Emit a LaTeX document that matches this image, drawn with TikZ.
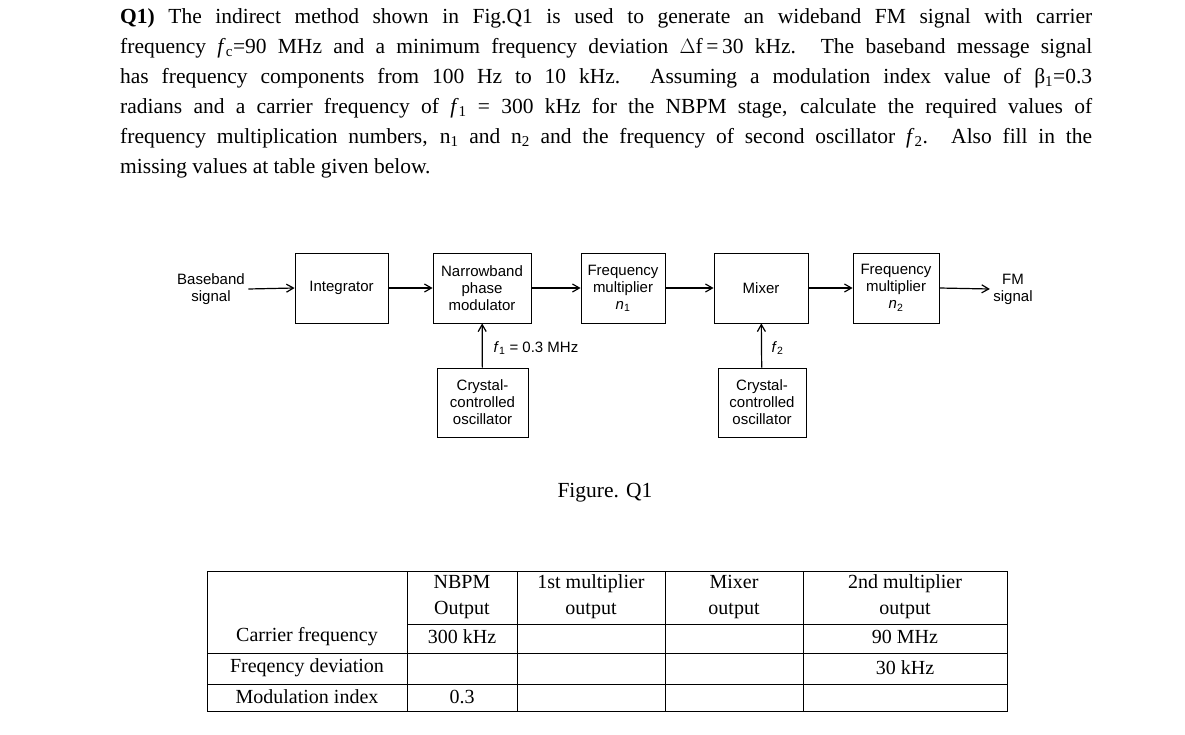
\documentclass[tikz,border=0pt]{standalone}
\usepackage{fontspec}
\setmainfont{Liberation Serif}
\newfontfamily\dsans{Liberation Sans}
\usetikzlibrary{arrows.meta}
\begin{document}
\begin{tikzpicture}[x=1pt,y=-1pt,
 blk/.style={draw,line width=0.8pt,minimum width=#1,minimum height=70,inner sep=1pt,align=center,font=\dsans\fontsize{15}{17}\selectfont},
 lbl/.style={align=center,font=\dsans\fontsize{15}{17}\selectfont},
 ar/.style={-{Straight Barb[length=7pt,width=8pt]},line width=1.2pt},
 para/.style={anchor=west,inner sep=0,font=\fontsize{21.5}{24}\selectfont},
 tb/.style={font=\fontsize{20}{26}\selectfont,align=center,inner sep=0}]
\useasboundingbox (0,0) rectangle (1185,735);
% paragraph
\node[para] (l1) at (120,18) {\hbox to 972pt{\textbf{Q1)} The indirect method shown in Fig.Q1 is used to generate an wideband FM signal with carrier}};
\node[para] (l2) at (120,48) {\hbox to 972pt{frequency \textit{f}\textsubscript{c}=90 MHz and a minimum frequency deviation $\Delta$f\,=\,30 kHz. The baseband message signal}};
\node[para] (l3) at (120,78) {\hbox to 972pt{has frequency components from 100 Hz to 10 kHz. Assuming a modulation index value of β\textsubscript{1}=0.3}};
\node[para] (l4) at (120,108) {\hbox to 972pt{radians and a carrier frequency of \textit{f}\textsubscript{1} = 300 kHz for the NBPM stage, calculate the required values of}};
\node[para] (l5) at (120,138) {\hbox to 972pt{frequency multiplication numbers, n\textsubscript{1} and n\textsubscript{2} and the frequency of second oscillator \textit{f}\textsubscript{2}. Also fill in the}};
\node[para] (l6) at (120,168) {missing values at table given below.};
% diagram
\node[lbl] (bb) at (211,289) {Baseband\\signal};
\node[blk=93] (int) at (341.5,288) {Integrator};
\node[blk=98] (nb) at (482,288) {Narrowband\\phase\\modulator};
\node[blk=84] (m1) at (623,288) {Frequency\\multiplier\\\textit{n}\textsubscript{1}};
\node[blk=94] (mx) at (761,288) {Mixer};
\node[blk=86] (m2) at (896,288) {Frequency\\multiplier\\\textit{n}\textsubscript{2}};
\node[lbl] (fm) at (1013,289) {FM\\signal};
\node[blk=91,minimum height=69] (c1) at (482.5,402.5) {Crystal-\\controlled\\oscillator};
\node[blk=88,minimum height=69] (c2) at (762,402.5) {Crystal-\\controlled\\oscillator};
\draw[ar] (bb.east) -- (int.west);
\draw[ar] (int) -- (nb);
\draw[ar] (nb) -- (m1);
\draw[ar] (m1) -- (mx);
\draw[ar] (mx) -- (m2);
\draw[ar] (m2.east) -- (fm.west);
\draw[ar] (c1) -- (nb);
\draw[ar] (c2) -- (mx);
\node[lbl,anchor=west] (f1) at (490,348) {\textit{f}\textsubscript{1} = 0.3 MHz};
\node[lbl,anchor=west] (f2) at (768,348) {\textit{f}\textsubscript{2}};
\node[font=\fontsize{21.5}{24}\selectfont] (cap) at (605,493) {Figure. Q1};
% table
\draw[line width=0.8pt] (207,571) rectangle (1007,711);
\foreach \x in {407,517,665,803} \draw[line width=0.8pt] (\x,571) -- (\x,711);
\draw[line width=0.8pt] (407,624) -- (1007,624);
\foreach \y in {653,684} \draw[line width=0.8pt] (207,\y) -- (1007,\y);
\node[tb] (h1) at (462,597) {NBPM\\Output};
\node[tb] (h2) at (591,597) {1st multiplier\\output};
\node[tb] (h3) at (734,597) {Mixer\\output};
\node[tb] (h4) at (905,597) {2nd multiplier\\output};
\node[tb] (r1) at (307,637) {Carrier frequency};
\node[tb] (r2) at (307,668) {Freqency deviation};
\node[tb] (r3) at (307,697) {Modulation index};
\node[tb] (v1) at (462,637) {300 kHz};
\node[tb] (v2) at (905,637) {90 MHz};
\node[tb] (v3) at (905,668) {30 kHz};
\node[tb] (v4) at (462,697) {0.3};
\end{tikzpicture}
\end{document}
